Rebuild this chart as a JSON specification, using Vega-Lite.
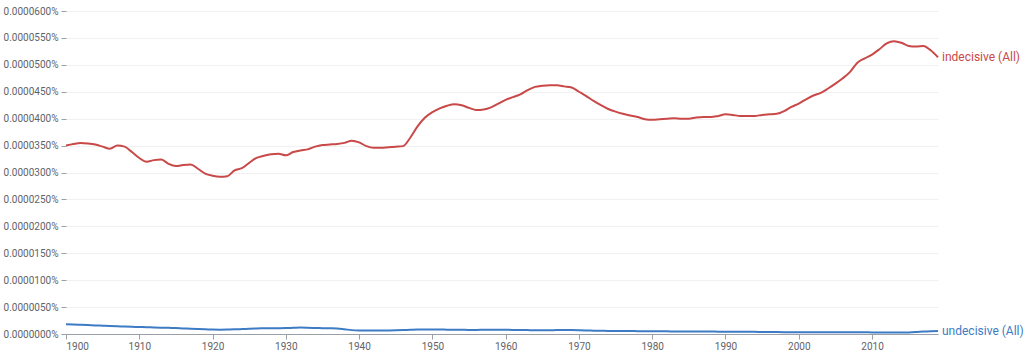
{
  "$schema": "https://vega.github.io/schema/vega-lite/v6.json",
  "width": 872,
  "height": 323,
  "autosize": {"type": "none"},
  "padding": {"left": 66, "top": 11, "right": 86, "bottom": 18},
  "background": "#ffffff",
  "config": {
    "view": {"stroke": null},
    "font": "Roboto",
    "axis": {"labelFont": "Roboto", "labelFontSize": 10, "labelColor": "#5f6368"}
  },
  "datasets": {
    "ngrams": [
      {"year":1900,"term":"indecisive (All)","value":35.0e-6},{"year":1901,"term":"indecisive (All)","value":35.3e-6},{"year":1902,"term":"indecisive (All)","value":35.5e-6},{"year":1903,"term":"indecisive (All)","value":35.4e-6},{"year":1904,"term":"indecisive (All)","value":35.2e-6},{"year":1905,"term":"indecisive (All)","value":34.8e-6},{"year":1906,"term":"indecisive (All)","value":34.4e-6},{"year":1907,"term":"indecisive (All)","value":35.0e-6},{"year":1908,"term":"indecisive (All)","value":34.8e-6},{"year":1909,"term":"indecisive (All)","value":33.8e-6},
      {"year":1910,"term":"indecisive (All)","value":32.7e-6},{"year":1911,"term":"indecisive (All)","value":32.0e-6},{"year":1912,"term":"indecisive (All)","value":32.3e-6},{"year":1913,"term":"indecisive (All)","value":32.4e-6},{"year":1914,"term":"indecisive (All)","value":31.6e-6},{"year":1915,"term":"indecisive (All)","value":31.2e-6},{"year":1916,"term":"indecisive (All)","value":31.4e-6},{"year":1917,"term":"indecisive (All)","value":31.5e-6},{"year":1918,"term":"indecisive (All)","value":30.7e-6},{"year":1919,"term":"indecisive (All)","value":29.8e-6},
      {"year":1920,"term":"indecisive (All)","value":29.4e-6},{"year":1921,"term":"indecisive (All)","value":29.2e-6},{"year":1922,"term":"indecisive (All)","value":29.3e-6},{"year":1923,"term":"indecisive (All)","value":30.4e-6},{"year":1924,"term":"indecisive (All)","value":30.8e-6},{"year":1925,"term":"indecisive (All)","value":31.8e-6},{"year":1926,"term":"indecisive (All)","value":32.7e-6},{"year":1927,"term":"indecisive (All)","value":33.1e-6},{"year":1928,"term":"indecisive (All)","value":33.4e-6},{"year":1929,"term":"indecisive (All)","value":33.5e-6},
      {"year":1930,"term":"indecisive (All)","value":33.2e-6},{"year":1931,"term":"indecisive (All)","value":33.8e-6},{"year":1932,"term":"indecisive (All)","value":34.1e-6},{"year":1933,"term":"indecisive (All)","value":34.3e-6},{"year":1934,"term":"indecisive (All)","value":34.8e-6},{"year":1935,"term":"indecisive (All)","value":35.1e-6},{"year":1936,"term":"indecisive (All)","value":35.2e-6},{"year":1937,"term":"indecisive (All)","value":35.3e-6},{"year":1938,"term":"indecisive (All)","value":35.5e-6},{"year":1939,"term":"indecisive (All)","value":35.9e-6},
      {"year":1940,"term":"indecisive (All)","value":35.6e-6},{"year":1941,"term":"indecisive (All)","value":34.9e-6},{"year":1942,"term":"indecisive (All)","value":34.6e-6},{"year":1943,"term":"indecisive (All)","value":34.6e-6},{"year":1944,"term":"indecisive (All)","value":34.7e-6},{"year":1945,"term":"indecisive (All)","value":34.8e-6},{"year":1946,"term":"indecisive (All)","value":34.9e-6},{"year":1947,"term":"indecisive (All)","value":36.5e-6},{"year":1948,"term":"indecisive (All)","value":38.6e-6},{"year":1949,"term":"indecisive (All)","value":40.2e-6},
      {"year":1950,"term":"indecisive (All)","value":41.2e-6},{"year":1951,"term":"indecisive (All)","value":41.9e-6},{"year":1952,"term":"indecisive (All)","value":42.4e-6},{"year":1953,"term":"indecisive (All)","value":42.7e-6},{"year":1954,"term":"indecisive (All)","value":42.5e-6},{"year":1955,"term":"indecisive (All)","value":42.0e-6},{"year":1956,"term":"indecisive (All)","value":41.6e-6},{"year":1957,"term":"indecisive (All)","value":41.7e-6},{"year":1958,"term":"indecisive (All)","value":42.1e-6},{"year":1959,"term":"indecisive (All)","value":42.8e-6},
      {"year":1960,"term":"indecisive (All)","value":43.5e-6},{"year":1961,"term":"indecisive (All)","value":44.0e-6},{"year":1962,"term":"indecisive (All)","value":44.5e-6},{"year":1963,"term":"indecisive (All)","value":45.3e-6},{"year":1964,"term":"indecisive (All)","value":45.9e-6},{"year":1965,"term":"indecisive (All)","value":46.1e-6},{"year":1966,"term":"indecisive (All)","value":46.2e-6},{"year":1967,"term":"indecisive (All)","value":46.2e-6},{"year":1968,"term":"indecisive (All)","value":46.0e-6},{"year":1969,"term":"indecisive (All)","value":45.8e-6},
      {"year":1970,"term":"indecisive (All)","value":45.0e-6},{"year":1971,"term":"indecisive (All)","value":44.2e-6},{"year":1972,"term":"indecisive (All)","value":43.3e-6},{"year":1973,"term":"indecisive (All)","value":42.5e-6},{"year":1974,"term":"indecisive (All)","value":41.8e-6},{"year":1975,"term":"indecisive (All)","value":41.3e-6},{"year":1976,"term":"indecisive (All)","value":40.9e-6},{"year":1977,"term":"indecisive (All)","value":40.6e-6},{"year":1978,"term":"indecisive (All)","value":40.3e-6},{"year":1979,"term":"indecisive (All)","value":39.9e-6},
      {"year":1980,"term":"indecisive (All)","value":39.8e-6},{"year":1981,"term":"indecisive (All)","value":39.9e-6},{"year":1982,"term":"indecisive (All)","value":40.0e-6},{"year":1983,"term":"indecisive (All)","value":40.1e-6},{"year":1984,"term":"indecisive (All)","value":40.0e-6},{"year":1985,"term":"indecisive (All)","value":40.0e-6},{"year":1986,"term":"indecisive (All)","value":40.2e-6},{"year":1987,"term":"indecisive (All)","value":40.3e-6},{"year":1988,"term":"indecisive (All)","value":40.3e-6},{"year":1989,"term":"indecisive (All)","value":40.5e-6},
      {"year":1990,"term":"indecisive (All)","value":40.8e-6},{"year":1991,"term":"indecisive (All)","value":40.7e-6},{"year":1992,"term":"indecisive (All)","value":40.5e-6},{"year":1993,"term":"indecisive (All)","value":40.5e-6},{"year":1994,"term":"indecisive (All)","value":40.5e-6},{"year":1995,"term":"indecisive (All)","value":40.7e-6},{"year":1996,"term":"indecisive (All)","value":40.8e-6},{"year":1997,"term":"indecisive (All)","value":40.9e-6},{"year":1998,"term":"indecisive (All)","value":41.4e-6},{"year":1999,"term":"indecisive (All)","value":42.2e-6},
      {"year":2000,"term":"indecisive (All)","value":42.8e-6},{"year":2001,"term":"indecisive (All)","value":43.6e-6},{"year":2002,"term":"indecisive (All)","value":44.3e-6},{"year":2003,"term":"indecisive (All)","value":44.8e-6},{"year":2004,"term":"indecisive (All)","value":45.6e-6},{"year":2005,"term":"indecisive (All)","value":46.5e-6},{"year":2006,"term":"indecisive (All)","value":47.5e-6},{"year":2007,"term":"indecisive (All)","value":48.7e-6},{"year":2008,"term":"indecisive (All)","value":50.4e-6},{"year":2009,"term":"indecisive (All)","value":51.2e-6},
      {"year":2010,"term":"indecisive (All)","value":51.9e-6},{"year":2011,"term":"indecisive (All)","value":52.9e-6},{"year":2012,"term":"indecisive (All)","value":54.0e-6},{"year":2013,"term":"indecisive (All)","value":54.4e-6},{"year":2014,"term":"indecisive (All)","value":54.1e-6},{"year":2015,"term":"indecisive (All)","value":53.5e-6},{"year":2016,"term":"indecisive (All)","value":53.4e-6},{"year":2017,"term":"indecisive (All)","value":53.5e-6},{"year":2018,"term":"indecisive (All)","value":52.7e-6},{"year":2019,"term":"indecisive (All)","value":51.4e-6},

      {"year":1900,"term":"undecisive (All)","value":1.80e-6},{"year":1901,"term":"undecisive (All)","value":1.78e-6},{"year":1902,"term":"undecisive (All)","value":1.72e-6},{"year":1903,"term":"undecisive (All)","value":1.66e-6},{"year":1904,"term":"undecisive (All)","value":1.60e-6},{"year":1905,"term":"undecisive (All)","value":1.53e-6},{"year":1906,"term":"undecisive (All)","value":1.47e-6},{"year":1907,"term":"undecisive (All)","value":1.42e-6},{"year":1908,"term":"undecisive (All)","value":1.38e-6},{"year":1909,"term":"undecisive (All)","value":1.34e-6},
      {"year":1910,"term":"undecisive (All)","value":1.30e-6},{"year":1911,"term":"undecisive (All)","value":1.26e-6},{"year":1912,"term":"undecisive (All)","value":1.22e-6},{"year":1913,"term":"undecisive (All)","value":1.18e-6},{"year":1914,"term":"undecisive (All)","value":1.14e-6},{"year":1915,"term":"undecisive (All)","value":1.10e-6},{"year":1916,"term":"undecisive (All)","value":1.04e-6},{"year":1917,"term":"undecisive (All)","value":0.98e-6},{"year":1918,"term":"undecisive (All)","value":0.92e-6},{"year":1919,"term":"undecisive (All)","value":0.86e-6},
      {"year":1920,"term":"undecisive (All)","value":0.82e-6},{"year":1921,"term":"undecisive (All)","value":0.80e-6},{"year":1922,"term":"undecisive (All)","value":0.82e-6},{"year":1923,"term":"undecisive (All)","value":0.86e-6},{"year":1924,"term":"undecisive (All)","value":0.92e-6},{"year":1925,"term":"undecisive (All)","value":0.98e-6},{"year":1926,"term":"undecisive (All)","value":1.03e-6},{"year":1927,"term":"undecisive (All)","value":1.06e-6},{"year":1928,"term":"undecisive (All)","value":1.07e-6},{"year":1929,"term":"undecisive (All)","value":1.08e-6},
      {"year":1930,"term":"undecisive (All)","value":1.10e-6},{"year":1931,"term":"undecisive (All)","value":1.15e-6},{"year":1932,"term":"undecisive (All)","value":1.20e-6},{"year":1933,"term":"undecisive (All)","value":1.17e-6},{"year":1934,"term":"undecisive (All)","value":1.12e-6},{"year":1935,"term":"undecisive (All)","value":1.08e-6},{"year":1936,"term":"undecisive (All)","value":1.06e-6},{"year":1937,"term":"undecisive (All)","value":1.02e-6},{"year":1938,"term":"undecisive (All)","value":0.88e-6},{"year":1939,"term":"undecisive (All)","value":0.72e-6},
      {"year":1940,"term":"undecisive (All)","value":0.65e-6},{"year":1941,"term":"undecisive (All)","value":0.64e-6},{"year":1942,"term":"undecisive (All)","value":0.64e-6},{"year":1943,"term":"undecisive (All)","value":0.64e-6},{"year":1944,"term":"undecisive (All)","value":0.66e-6},{"year":1945,"term":"undecisive (All)","value":0.70e-6},{"year":1946,"term":"undecisive (All)","value":0.74e-6},{"year":1947,"term":"undecisive (All)","value":0.78e-6},{"year":1948,"term":"undecisive (All)","value":0.82e-6},{"year":1949,"term":"undecisive (All)","value":0.84e-6},
      {"year":1950,"term":"undecisive (All)","value":0.85e-6},{"year":1951,"term":"undecisive (All)","value":0.83e-6},{"year":1952,"term":"undecisive (All)","value":0.81e-6},{"year":1953,"term":"undecisive (All)","value":0.80e-6},{"year":1954,"term":"undecisive (All)","value":0.78e-6},{"year":1955,"term":"undecisive (All)","value":0.76e-6},{"year":1956,"term":"undecisive (All)","value":0.76e-6},{"year":1957,"term":"undecisive (All)","value":0.78e-6},{"year":1958,"term":"undecisive (All)","value":0.80e-6},{"year":1959,"term":"undecisive (All)","value":0.80e-6},
      {"year":1960,"term":"undecisive (All)","value":0.78e-6},{"year":1961,"term":"undecisive (All)","value":0.76e-6},{"year":1962,"term":"undecisive (All)","value":0.74e-6},{"year":1963,"term":"undecisive (All)","value":0.72e-6},{"year":1964,"term":"undecisive (All)","value":0.70e-6},{"year":1965,"term":"undecisive (All)","value":0.70e-6},{"year":1966,"term":"undecisive (All)","value":0.70e-6},{"year":1967,"term":"undecisive (All)","value":0.72e-6},{"year":1968,"term":"undecisive (All)","value":0.72e-6},{"year":1969,"term":"undecisive (All)","value":0.72e-6},
      {"year":1970,"term":"undecisive (All)","value":0.70e-6},{"year":1971,"term":"undecisive (All)","value":0.66e-6},{"year":1972,"term":"undecisive (All)","value":0.62e-6},{"year":1973,"term":"undecisive (All)","value":0.60e-6},{"year":1974,"term":"undecisive (All)","value":0.58e-6},{"year":1975,"term":"undecisive (All)","value":0.58e-6},{"year":1976,"term":"undecisive (All)","value":0.57e-6},{"year":1977,"term":"undecisive (All)","value":0.55e-6},{"year":1978,"term":"undecisive (All)","value":0.53e-6},{"year":1979,"term":"undecisive (All)","value":0.52e-6},
      {"year":1980,"term":"undecisive (All)","value":0.50e-6},{"year":1981,"term":"undecisive (All)","value":0.50e-6},{"year":1982,"term":"undecisive (All)","value":0.49e-6},{"year":1983,"term":"undecisive (All)","value":0.48e-6},{"year":1984,"term":"undecisive (All)","value":0.48e-6},{"year":1985,"term":"undecisive (All)","value":0.48e-6},{"year":1986,"term":"undecisive (All)","value":0.47e-6},{"year":1987,"term":"undecisive (All)","value":0.46e-6},{"year":1988,"term":"undecisive (All)","value":0.45e-6},{"year":1989,"term":"undecisive (All)","value":0.44e-6},
      {"year":1990,"term":"undecisive (All)","value":0.44e-6},{"year":1991,"term":"undecisive (All)","value":0.43e-6},{"year":1992,"term":"undecisive (All)","value":0.42e-6},{"year":1993,"term":"undecisive (All)","value":0.41e-6},{"year":1994,"term":"undecisive (All)","value":0.40e-6},{"year":1995,"term":"undecisive (All)","value":0.38e-6},{"year":1996,"term":"undecisive (All)","value":0.36e-6},{"year":1997,"term":"undecisive (All)","value":0.35e-6},{"year":1998,"term":"undecisive (All)","value":0.34e-6},{"year":1999,"term":"undecisive (All)","value":0.33e-6},
      {"year":2000,"term":"undecisive (All)","value":0.33e-6},{"year":2001,"term":"undecisive (All)","value":0.33e-6},{"year":2002,"term":"undecisive (All)","value":0.33e-6},{"year":2003,"term":"undecisive (All)","value":0.34e-6},{"year":2004,"term":"undecisive (All)","value":0.34e-6},{"year":2005,"term":"undecisive (All)","value":0.34e-6},{"year":2006,"term":"undecisive (All)","value":0.33e-6},{"year":2007,"term":"undecisive (All)","value":0.33e-6},{"year":2008,"term":"undecisive (All)","value":0.32e-6},{"year":2009,"term":"undecisive (All)","value":0.31e-6},
      {"year":2010,"term":"undecisive (All)","value":0.30e-6},{"year":2011,"term":"undecisive (All)","value":0.29e-6},{"year":2012,"term":"undecisive (All)","value":0.27e-6},{"year":2013,"term":"undecisive (All)","value":0.26e-6},{"year":2014,"term":"undecisive (All)","value":0.26e-6},{"year":2015,"term":"undecisive (All)","value":0.28e-6},{"year":2016,"term":"undecisive (All)","value":0.35e-6},{"year":2017,"term":"undecisive (All)","value":0.45e-6},{"year":2018,"term":"undecisive (All)","value":0.52e-6},{"year":2019,"term":"undecisive (All)","value":0.55e-6}
    ]
  },
  "data": {"name": "ngrams"},
  "encoding": {
    "x": {
      "field": "year", "type": "quantitative",
      "scale": {"domain": [1900, 2019], "nice": false, "zero": false},
      "axis": {
        "title": null, "values": [1900,1910,1920,1930,1940,1950,1960,1970,1980,1990,2000,2010],
        "format": "d", "grid": false, "domainColor": "#9aa0a6", "tickColor": "#9aa0a6",
        "tickSize": 5, "labelPadding": 2, "labelFontSize": 10, "labelColor": "#5f6368"
      }
    },
    "y": {
      "field": "value", "type": "quantitative",
      "scale": {"domain": [0, 0.00006], "nice": false},
      "axis": {
        "title": null, "values": [0,0.000005,0.00001,0.000015,0.00002,0.000025,0.00003,0.000035,0.00004,0.000045,0.00005,0.000055,0.00006],
        "labelExpr": "format(datum.value, '.7f') + '%'",
        "domain": false, "grid": true, "gridColor": "#f1f1f1", "tickColor": "#9aa0a6",
        "tickSize": 5, "labelPadding": 3, "labelFontSize": 10, "labelColor": "#5f6368"
      }
    },
    "color": {
      "field": "term", "type": "nominal",
      "scale": {"domain": ["indecisive (All)", "undecisive (All)"], "range": ["#c94848", "#3d7bc4"]},
      "legend": null
    }
  },
  "layer": [
    {"mark": {"type": "line", "strokeWidth": 2, "interpolate": "monotone"}},
    {
      "transform": [{"filter": "datum.year == 2019"}],
      "mark": {"type": "text", "align": "left", "baseline": "middle", "dx": 4, "fontSize": 12, "font": "Roboto"},
      "encoding": {"text": {"field": "term"}}
    }
  ]
}
